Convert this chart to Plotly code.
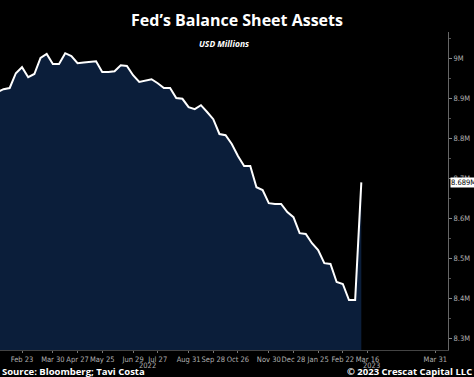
import plotly.graph_objects as go

# Weekly observations (index 0 = Feb 23 2022, weekly steps)
week_index = list(range(-4, 56))
assets_musd = [
    8.915e6, 8.922e6, 8.925e6, 8.962e6, 8.977e6, 8.952e6, 8.960e6, 9.000e6, 9.010e6, 8.985e6,
    8.985e6, 9.012e6, 9.005e6, 8.987e6, 8.989e6, 8.990e6, 8.992e6, 8.965e6, 8.965e6, 8.967e6,
    8.982e6, 8.980e6, 8.957e6, 8.940e6, 8.944e6, 8.947e6, 8.937e6, 8.925e6, 8.925e6, 8.900e6,
    8.898e6, 8.877e6, 8.872e6, 8.882e6, 8.865e6, 8.847e6, 8.810e6, 8.807e6, 8.785e6, 8.755e6,
    8.730e6, 8.730e6, 8.677e6, 8.670e6, 8.637e6, 8.635e6, 8.635e6, 8.615e6, 8.602e6, 8.562e6,
    8.560e6, 8.537e6, 8.520e6, 8.487e6, 8.485e6, 8.440e6, 8.435e6, 8.395e6, 8.395e6, 8.689e6,
]

x_tick_pos = [0, 5, 9, 13, 18, 22, 27, 31, 35, 40, 44, 48, 52, 56, 67]
x_tick_text = ["Feb 23", "Mar 30", "Apr 27", "May 25", "Jun 29", "Jul 27", "Aug 31",
               "Sep 28", "Oct 26", "Nov 30", "Dec 28", "Jan 25", "Feb 22", "Mar 16", "Mar 31"]
year_labels = ["2022", "2023"]
year_pos = [20.3, 56.7]

y_tick_vals = [8.3e6, 8.4e6, 8.5e6, 8.6e6, 8.7e6, 8.8e6, 8.9e6, 9.0e6]
y_tick_text = ["8.3M", "8.4M", "8.5M", "8.6M", "8.7M", "8.8M", "8.9M", "9M"]
last_label = "8.689M"

tick_font = dict(family="DejaVu Sans Condensed, Liberation Sans", size=7.5, color="#b0b0b0")

fig = go.Figure()
fig.add_trace(go.Scatter(
    x=week_index, y=assets_musd, mode="lines",
    line=dict(color="white", width=2),
    fill="tozeroy", fillcolor="#0b1e3a",
    hoverinfo="skip",
))

fig.update_layout(
    width=474, height=377,
    margin=dict(l=0, r=26, t=32, b=27, autoexpand=False),
    paper_bgcolor="black", plot_bgcolor="black",
    showlegend=False,
    title=dict(text="<b>Fed’s Balance Sheet Assets</b>", x=0.5, xanchor="center",
               y=0.947, yanchor="middle",
               font=dict(family="Open Sans", size=16, color="white")),
    xaxis=dict(
        range=[-3.57, 69.05], showgrid=False, zeroline=False, automargin=False,
        tickmode="array", tickvals=x_tick_pos, ticktext=x_tick_text, tickangle=0,
        ticks="outside", ticklen=2, tickcolor="#777", showline=True, linecolor="#444",
        tickfont=tick_font,
    ),
    yaxis=dict(
        side="right", range=[8.27e6, 9.065e6], showgrid=False, zeroline=False,
        automargin=False,
        tickmode="array", tickvals=y_tick_vals, ticktext=y_tick_text,
        ticks="outside", ticklen=3, tickcolor="#888", showline=True, linecolor="#666",
        tickfont=tick_font,
        minor=dict(ticks="outside", ticklen=2, tickcolor="#555", dtick=0.05e6, tick0=8.3e6),
    ),
    annotations=[
        dict(text="<b><i>USD Millions</i></b>", xref="paper", yref="paper", x=0.5, y=0.965,
             xanchor="center", yanchor="middle", showarrow=False,
             font=dict(family="Open Sans", size=8.5, color="white")),
        dict(text="<b>Source: Bloomberg; Tavi Costa</b>", xref="paper", yref="paper",
             x=0.0, y=-0.094, xanchor="left", yanchor="bottom", showarrow=False,
             font=dict(family="Open Sans", size=9.5, color="white")),
        dict(text="<b>© 2023 Crescat Capital LLC</b>", xref="paper", yref="paper",
             x=1.058, y=-0.094, xanchor="right", yanchor="bottom", showarrow=False,
             font=dict(family="Open Sans", size=9.5, color="white")),
        dict(text=last_label, xref="paper", yref="y", x=1.005, y=assets_musd[-1],
             xanchor="left", yanchor="middle", showarrow=False, bgcolor="white",
             borderpad=0, font=dict(family="DejaVu Sans Condensed, Liberation Sans",
                                    size=7.5, color="black")),
    ] + [
        dict(text=t, x=p, xref="x", yref="paper", y=-0.05, xanchor="center", yanchor="middle",
             showarrow=False, font=tick_font)
        for t, p in zip(year_labels, year_pos)
    ],
)

fig.write_html(
    "out.html",
    config={"displayModeBar": False},
    post_script="document.body.style.margin='0';document.body.style.background='black';",
)
